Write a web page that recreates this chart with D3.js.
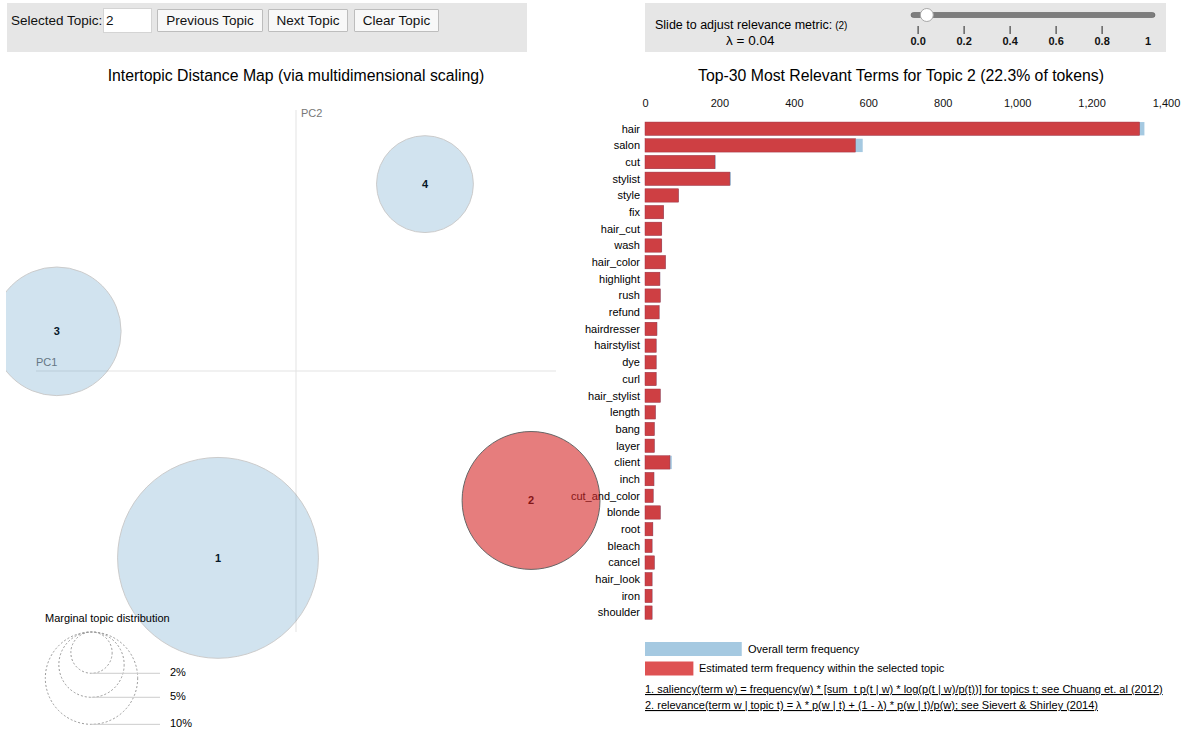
<!DOCTYPE html>
<html>
<head>
<meta charset="utf-8">
<script src="https://cdn.jsdelivr.net/npm/d3@7"></script>
<style>
body { margin: 0; background: #fff; font-family: "Liberation Sans", Arial, Helvetica, sans-serif; }
#wrap { position: relative; width: 1200px; height: 739px; overflow: hidden; }
.panel { position: absolute; background: #e6e6e6; }
.ctrl { position: absolute; font-size: 13.5px; font-family: "Liberation Sans", Arial, sans-serif; color: #111; }
button.ctrl { background: #f8f8f8; border: 1px solid #bdbdbd; border-radius: 1px; padding: 0; }
input.ctrl { background: #fff; border: 1px solid #d4d4d4; padding: 0 0 0 2px; box-sizing: border-box; }
svg { position: absolute; left: 0; top: 0; }
svg text { font-family: "Liberation Sans", Arial, sans-serif; }
</style>
</head>
<body>
<div id="wrap">
  <div class="panel" style="left:7px;top:3px;width:520px;height:49px"></div>
  <div class="panel" style="left:645px;top:3px;width:521px;height:49px"></div>
  <span class="ctrl" style="left:11px;top:13px;line-height:16px">Selected Topic:</span>
  <input class="ctrl" style="left:103px;top:8px;width:49px;height:25px" value="2">
  <button class="ctrl" style="left:157px;top:9px;width:106px;height:23px">Previous Topic</button>
  <button class="ctrl" style="left:268px;top:9px;width:80px;height:23px">Next Topic</button>
  <button class="ctrl" style="left:354px;top:9px;width:85px;height:23px">Clear Topic</button>
  <svg id="chart" width="1200" height="739"></svg>
</div>
<script>
// topics (MDS coordinates + share of tokens)
const topics = [1, 2, 3, 4];
const topicPC1 = [-0.075, 0.226, -0.230, 0.124];
const topicPC2 = [-0.179, -0.124, 0.038, 0.179];
const topicPct = [47.3, 22.3, 19.4, 11.0];
const selectedTopic = 2;
const legendPct = [2, 5, 10];

// top-30 terms for topic 2
const terms = ["hair", "salon", "cut", "stylist", "style", "fix", "hair_cut", "wash", "hair_color",
  "highlight", "rush", "refund", "hairdresser", "hairstylist", "dye", "curl", "hair_stylist",
  "length", "bang", "layer", "client", "inch", "cut_and_color", "blonde", "root", "bleach",
  "cancel", "hair_look", "iron", "shoulder"];
const topicFreq = [1329, 565, 188, 228, 90, 50, 45, 45, 55, 40, 41, 38, 32, 30, 30, 30, 41,
  28, 25, 25, 67, 24, 22, 41, 21, 19, 25, 19, 19, 19];
const totalFreq = [1342, 585, 190, 231, 91, 51, 46, 46, 56, 41, 42, 39, 33, 31, 31, 31, 42,
  29, 26, 26, 72, 25, 23, 42, 22, 20, 26, 20, 20, 20];
const freqTicks = [0, 200, 400, 600, 800, 1000, 1200, 1400];

// relevance slider
const lambda = 0.04;
const sliderTicks = [0, 0.2, 0.4, 0.6, 0.8, 1];
const sliderLabels = ["0.0", "0.2", "0.4", "0.6", "0.8", "1"];

const blue = "#1f77b4", red = "#d62728";
const svg = d3.select("#chart");

// ---- slider (top right panel)
const sl = svg.append("g");
sl.append("text").attr("x", 655).attr("y", 28.5).style("font-size", "12.5px")
  .text("Slide to adjust relevance metric:")
  .append("tspan").attr("dx", 3).style("font-size", "10px").text("(2)");
sl.append("text").attr("x", 726).attr("y", 44.5).style("font-size", "13.5px")
  .text(`λ = ${lambda.toFixed(2)}`);

const s = d3.scaleLinear().domain([0, 1]).range([917.6, 1147.6]);
sl.append("rect").attr("x", 911).attr("y", 12.5).attr("width", 244).attr("height", 5)
  .attr("rx", 2.5).attr("fill", "#7d7d7d").attr("stroke", "#5e5e5e").attr("stroke-width", 0.6);
const sAxis = sl.append("g").attr("transform", "translate(0,26)")
  .call(d3.axisBottom(s).tickValues(sliderTicks).tickSize(8).tickFormat((d, i) => sliderLabels[i]));
sAxis.select(".domain").remove();
sAxis.selectAll(".tick line").attr("stroke", "#222").attr("opacity", (d, i) => i === sliderTicks.length - 1 ? 0 : 1);
sAxis.selectAll(".tick text").style("font-size", "11px").style("font-weight", "bold")
  .attr("fill", "#111").attr("font-family", null);
sl.append("circle").attr("cx", s(lambda)).attr("cy", 15).attr("r", 6.5)
  .attr("fill", "#fff").attr("stroke", "#a8a8a8");

// ---- titles
svg.append("text").attr("x", 296).attr("y", 81).attr("text-anchor", "middle")
  .style("font-size", "15.8px").text("Intertopic Distance Map (via multidimensional scaling)");
const sel = topics.indexOf(selectedTopic);
svg.append("text").attr("x", 901).attr("y", 81).attr("text-anchor", "middle")
  .style("font-size", "15.8px")
  .text(`Top-30 Most Relevant Terms for Topic ${selectedTopic} (${topicPct[sel].toFixed(1)}% of tokens)`);

// ---- bar chart
const bar = svg.append("g").attr("transform", "translate(645,0)");
const x = d3.scaleLinear().domain([0, 1400]).range([0, 521]);
const y = d3.scaleBand().domain(terms).range([118.7, 622.6]).padding(0.2);

const xAxis = bar.append("g").attr("transform", "translate(0,99)")
  .call(d3.axisTop(x).tickValues(freqTicks).tickSize(0).tickPadding(0));
xAxis.select(".domain").remove();
xAxis.selectAll("text").style("font-size", "11px").attr("fill", "#111").attr("font-family", null)
  .attr("dy", "0.71em");

bar.selectAll(".total").data(terms).join("rect")
  .attr("x", 0).attr("y", d => y(d))
  .attr("width", (d, i) => x(totalFreq[i])).attr("height", y.bandwidth())
  .attr("fill", blue).attr("opacity", 0.4);
bar.selectAll(".est").data(terms).join("rect")
  .attr("x", 0).attr("y", d => y(d))
  .attr("width", (d, i) => x(topicFreq[i])).attr("height", y.bandwidth())
  .attr("fill", red).attr("opacity", 0.85)
  .attr("stroke", "#9e1a2a").attr("stroke-width", 0.5);
bar.selectAll(".term").data(terms).join("text")
  .attr("x", -5).attr("y", d => y(d) + y.bandwidth() / 2).attr("dy", "0.35em")
  .attr("text-anchor", "end").style("font-size", "11px").text(d => d);

// legend + footnotes
bar.append("rect").attr("x", 0).attr("y", 642).attr("width", x(260)).attr("height", 14)
  .attr("fill", blue).attr("opacity", 0.4);
bar.append("text").attr("x", 103).attr("y", 653).style("font-size", "11px").text("Overall term frequency");
bar.append("rect").attr("x", 0).attr("y", 661.5).attr("width", x(130)).attr("height", 14)
  .attr("fill", red).attr("opacity", 0.8);
bar.append("text").attr("x", 54).attr("y", 672).style("font-size", "11px")
  .text("Estimated term frequency within the selected topic");
bar.append("text").attr("x", 0).attr("y", 693).style("font-size", "11px")
  .style("text-decoration", "underline")
  .text("1. saliency(term w) = frequency(w) * [sum_t p(t | w) * log(p(t | w)/p(t))] for topics t; see Chuang et. al (2012)");
bar.append("text").attr("x", 0).attr("y", 709).style("font-size", "11px")
  .style("text-decoration", "underline")
  .text("2. relevance(term w | topic t) = λ * p(w | t) + (1 - λ) * p(w | t)/p(w); see Sievert & Shirley (2014)");

// ---- intertopic distance map
svg.append("clipPath").attr("id", "mdsclip")
  .append("rect").attr("x", 6).attr("y", 60).attr("width", 1194).attr("height", 679);
const mdsW = 520, mdsH = 522;
const mds = svg.append("g").attr("clip-path", "url(#mdsclip)")
  .append("g").attr("transform", "translate(36,110)");
const px = d3.scaleLinear().domain([-0.25, 0.25]).range([0, mdsW]);
const py = d3.scaleLinear().domain([-0.25, 0.25]).range([mdsH, 0]);
const r = d3.scaleSqrt().domain([0, 100]).range([0, 146]);

mds.append("line").attr("x1", 0).attr("x2", mdsW).attr("y1", mdsH / 2).attr("y2", mdsH / 2)
  .attr("stroke", "#e3e3e3");
mds.append("line").attr("x1", mdsW / 2).attr("x2", mdsW / 2).attr("y1", 0).attr("y2", mdsH)
  .attr("stroke", "#e3e3e3");
mds.append("text").attr("x", 0).attr("y", mdsH / 2 - 5).style("font-size", "11px")
  .attr("fill", "#777").text("PC1");
mds.append("text").attr("x", mdsW / 2 + 5).attr("y", 7).style("font-size", "11px")
  .attr("fill", "#777").text("PC2");

// labels sit under the translucent circles
mds.selectAll(".tlabel").data(topics).join("text")
  .attr("x", (d, i) => px(topicPC1[i])).attr("y", (d, i) => py(topicPC2[i]) + 4)
  .attr("text-anchor", "middle").style("font-size", "11px").style("font-weight", "bold")
  .text(d => d);
mds.selectAll(".dot").data(topics).join("circle")
  .attr("cx", (d, i) => px(topicPC1[i])).attr("cy", (d, i) => py(topicPC2[i]))
  .attr("r", (d, i) => r(topicPct[i]))
  .attr("fill", d => d === selectedTopic ? red : blue)
  .attr("stroke", "black")
  .attr("opacity", d => d === selectedTopic ? 0.6 : 0.2);

// marginal topic distribution legend
const leg = svg.append("g");
const legX = 91.5, legTop = 632;
leg.append("text").attr("x", 45).attr("y", 622).style("font-size", "11px").text("Marginal topic distribution");
leg.selectAll("circle").data(legendPct).join("circle")
  .attr("cx", legX).attr("cy", d => legTop + r(d)).attr("r", d => r(d))
  .attr("fill", "none").attr("stroke", "#999").attr("stroke-dasharray", "2 2");
leg.selectAll("line").data(legendPct).join("line")
  .attr("x1", legX).attr("x2", 160).attr("y1", d => legTop + 2 * r(d)).attr("y2", d => legTop + 2 * r(d))
  .attr("stroke", "#ccc");
leg.selectAll(".lp").data(legendPct).join("text")
  .attr("x", 170).attr("y", d => legTop + 2 * r(d) + 3).style("font-size", "11px")
  .text(d => d + "%");
</script>
</body>
</html>
